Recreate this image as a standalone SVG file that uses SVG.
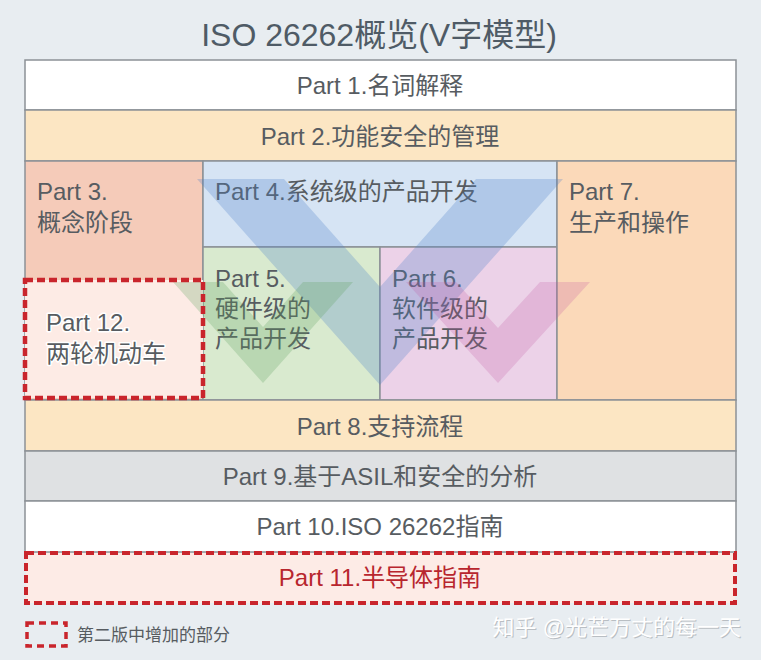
<svg xmlns="http://www.w3.org/2000/svg" width="761" height="660" viewBox="0 0 761 660">
<style>
text{font-family:"Liberation Sans","Noto Sans CJK SC",sans-serif;fill:#575c61;font-size:24px}
.box{stroke:#8c9196;stroke-width:1.5}
.dash{stroke:#c9252c;stroke-width:4;stroke-dasharray:8 4}
.c{text-anchor:middle}
.halo{stroke:#fff;stroke-width:3;paint-order:stroke;stroke-linejoin:round}
.wm{font-size:22px;text-anchor:end}
</style>
<rect width="761" height="660" fill="#e8edf1"/>
<text id="title" x="379" y="46" class="c" style="font-size:32px;fill:#4f5b66">ISO 26262概览(V字模型)</text>
<g id="nodes">
<g id="p1"><rect class="box" x="25" y="60" width="711" height="50" fill="#ffffff"/><text x="380" y="94" class="c">Part 1.名词解释</text></g>
<g id="p2"><rect class="box" x="25" y="110" width="711" height="51" fill="#fce6c3"/><text x="380" y="145" class="c">Part 2.功能安全的管理</text></g>
<g id="p3"><rect class="box" x="25" y="161" width="178" height="239" fill="#f5cbb9"/><text x="37" y="200">Part 3.</text><text x="37" y="231">概念阶段</text></g>
<g id="p4"><rect class="box" x="203" y="161" width="354" height="86" fill="#d6e4f4"/><text x="215" y="200">Part 4.系统级的产品开发</text></g>
<g id="p5"><rect class="box" x="203" y="247" width="177" height="153" fill="#d9eacf"/><text x="215" y="287">Part 5.</text><text x="215" y="317">硬件级的</text><text x="215" y="347">产品开发</text></g>
<g id="p6"><rect class="box" x="380" y="247" width="177" height="153" fill="#ecd2e8"/><text x="392" y="287">Part 6.</text><text x="392" y="317">软件级的</text><text x="392" y="347">产品开发</text></g>
<g id="p7"><rect class="box" x="557" y="161" width="179" height="239" fill="#fbd9b9"/><text x="569" y="200">Part 7.</text><text x="569" y="231">生产和操作</text></g>
<g id="p12"><rect x="25" y="280" width="178" height="118" fill="#fdebe5"/></g>
<g id="p8"><rect class="box" x="25" y="400" width="711" height="51" fill="#fce6c3"/><text x="380" y="435" class="c">Part 8.支持流程</text></g>
<g id="p9"><rect class="box" x="25" y="451" width="711" height="50" fill="#dfe1e3"/><text x="380" y="485" class="c">Part 9.基于ASIL和安全的分析</text></g>
<g id="p10"><rect class="box" x="25" y="501" width="711" height="51" fill="#ffffff"/><text x="380" y="535" class="c">Part 10.ISO 26262指南</text></g>
<g id="p11"><rect class="dash" x="26" y="553" width="709" height="50" fill="#fdebe6"/><text x="380" y="586" class="c" style="fill:#b8262e">Part 11.半导体指南</text></g>
</g>
<g id="v-model">
<polygon points="197,179 284,179 380,287 476,179 563,179 380,385" fill="rgb(80,130,200)" fill-opacity="0.28"/>
<polygon points="173,282 223,282 263,327 303,282 353,282 263,383" fill="rgb(90,160,90)" fill-opacity="0.25"/>
<polygon points="406,282 456,282 498,328 540,282 590,282 498,383" fill="rgb(190,80,160)" fill-opacity="0.22"/>
</g>
<g id="p12-label">
<rect class="dash" x="25" y="280" width="178" height="118" fill="none" style="stroke-width:4.5"/>
<text x="46" y="331" class="halo">Part 12.</text>
<text x="46" y="362" class="halo">两轮机动车</text>
</g>
<g id="legend">
<rect class="dash" x="27" y="623" width="39" height="23" fill="none" style="stroke-width:3.5;stroke-dasharray:7 5"/>
<text x="77" y="641" style="font-size:17px">第二版中增加的部分</text>
</g>
<g id="watermark">
<text x="742" y="636" class="wm" style="fill:#b9bec3">知乎 @光芒万丈的每一天</text>
<text x="741" y="635" class="wm" style="fill:#ffffff">知乎 @光芒万丈的每一天</text>
</g>
</svg>
